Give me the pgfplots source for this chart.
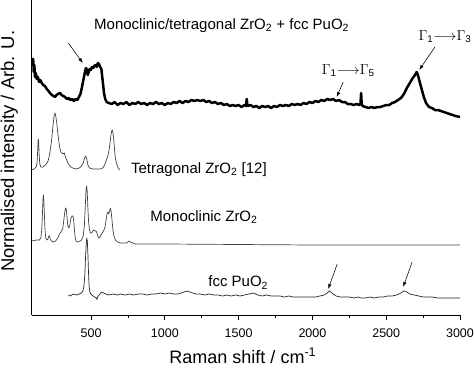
\documentclass[border=0pt]{standalone}
\usepackage{fontspec}
\setmainfont{Liberation Sans}
\usepackage{pgfplots}
\pgfplotsset{compat=1.18}
\usetikzlibrary{arrows.meta}

% mixed-phase sample (thick, noisy trace)
\pgfplotstableread{
x y
102 257
105 250
108 256
112 243
116 250
120 238
126 242
132 236
140 238
148 233
156 235
166 232
176 230
188 229
200 226
212 224
222 222
234 220
246 219
256 218
266 220
276 221
290 222
300 220
312 219
324 218
336 216
348 217
360 215
372 216
384 214
396 216
408 215
418 218
428 221
436 226
444 232
452 238
460 244
466 247
470 246
474 242
478 240
484 243
490 246
498 245
506 248
514 247
522 249
530 250
538 248
546 252
554 251
562 248
570 246
576 238
582 230
588 222
596 216
606 213
620 212
640 211
660 213
680 210
700 212
720 211
740 213
760 210
780 212
800 211
820 213
840 211
860 212
880 210
900 212
920 211
940 213
960 211
980 212
1000 210
1020 212
1040 211
1060 213
1080 212
1100 214
1120 212
1140 214
1160 213
1180 215
1200 214
1220 215
1240 214
1260 215
1280 213
1300 214
1320 212
1340 213
1360 211
1380 212
1400 210
1420 211
1440 209
1460 210
1480 209
1500 210
1520 208
1540 210
1550 209
1555 216
1560 209
1580 210
1600 208
1620 209
1640 207
1660 209
1680 208
1700 209
1720 207
1740 209
1760 208
1780 210
1800 209
1820 210
1840 209
1860 211
1880 210
1900 211
1920 210
1940 212
1960 211
1980 213
2000 212
2020 214
2040 213
2060 215
2080 214
2100 216
2120 215
2140 216
2160 214
2180 215
2200 213
2220 213
2240 211
2260 211
2280 210
2300 211
2320 210
2326 212
2330 222
2334 211
2340 209
2360 208
2380 207
2400 208
2420 207
2440 208
2460 208
2480 209
2500 210
2520 210
2540 212
2560 213
2580 215
2600 217
2620 221
2640 227
2660 232
2680 237
2695 240
2706 243
2715 240
2725 234
2740 226
2755 218
2770 212
2790 208
2810 207
2830 205
2850 205
2870 204
2890 203
2910 202
2930 201
2950 200
2970 199
3000 198
}\mixed

% tetragonal ZrO2 reference
\pgfplotstableread{
x y
98 145
115 146
128 148
134 152
138 163
141 174
143 176
146 170
149 159
153 151
160 148
175 148
190 150
203 152
211 155
222 163
233 175
244 192
250 199
256 202
261 199
267 193
272 186
278 178
287 168
296 163
308 161
319 162
327 158
335 155
346 151
357 149
375 147
400 146
420 147
435 149
447 152
456 157
464 159
471 156
479 150
490 147
510 146
560 146
580 147
592 150
604 155
612 158
620 163
628 171
635 180
640 184
644 185
648 183
654 175
660 164
666 156
674 151
684 147
696 145
}\tetra

% monoclinic ZrO2
\pgfplotstableread{
x y
98 74
130 75
150 75
160 77
166 85
170 98
174 114
177 120
180 116
184 100
188 86
193 77
200 75
208 76
214 79
218 79
223 76
232 74
244 73
260 74
275 77
285 81
292 82
300 84
308 86
315 94
322 103
328 107
332 106
337 98
343 89
350 87
356 90
364 97
372 99
378 99
383 94
388 84
393 77
398 74
410 73
425 74
435 75
447 79
455 90
461 108
466 125
470 129
474 124
479 106
484 92
490 85
497 82
505 82
512 84
520 85
528 84
534 84
540 82
548 78
556 77
564 79
575 82
585 84
595 88
603 96
610 102
614 103
620 101
626 104
631 107
636 104
642 95
648 86
655 79
665 75
680 73
700 72
740 72
750 73
758 74
766 73
800 71
1000 71
1500 70.5
2000 70
2500 70
3000 70
}\mono

% fcc PuO2
\pgfplotstableread{
x y
346 20
360 19
380 21
400 20
420 21
435 22
445 24
452 29
458 40
463 58
467 70
471 77
475 74
479 60
483 42
487 29
492 23
498 21
506 20
515 19
525 18
535 17
540 15.5
545 18
555 20
565 22
575 23
585 22
600 21
620 20
650 21
680 20
700 21
730 20
760 21
790 20
820 21
850 21
880 20
910 21
940 21
970 22
1000 21
1030 22
1060 21
1090 21
1110 22
1130 23
1150 24
1170 23
1190 22
1210 21
1240 21
1270 20
1300 21
1330 20
1360 20
1390 19
1420 20
1450 19
1480 20
1510 19
1540 20
1570 21
1600 22
1630 20
1660 19
1690 20
1720 19
1750 19
1780 19
1810 18
1840 19
1870 18
1900 18
1930 18
1960 18
1990 18
2020 18
2050 19
2080 20
2100 22
2115 24
2125 23
2140 21
2160 19
2190 18
2220 18
2250 18
2280 17
2310 18
2330 17
2360 17
2390 18
2420 17
2450 18
2480 18
2510 19
2540 19
2570 20
2600 22
2620 24
2640 23
2660 21
2690 20
2720 19
2750 18
2780 18
2810 18
2850 17
2900 17
2950 17
3000 17
}\puo

\begin{document}
\begin{tikzpicture}
\begin{axis}[
  scale only axis,
  width=428.3pt, height=315pt,
  xmin=98, xmax=3000, ymin=0, ymax=315,
  axis x line*=bottom, axis y line*=left,
  axis line style={line width=0.8pt},
  xtick={500,1000,...,3000},
  minor x tick num=1,
  ytick=\empty,
  tick align=outside,
  major tick length=4.5pt, minor tick length=3pt,
  tick style={line width=0.7pt, black},
  /pgf/number format/assume math mode=true,
  /pgf/number format/1000 sep={},
  xticklabel style={font=\fontsize{12.5}{14}\selectfont, inner sep=1pt, yshift=-8pt},
  xlabel={Raman shift / cm\textsuperscript{-1}},
  xlabel style={font=\fontsize{18}{20}\selectfont, at={(axis description cs:0.493,-0.129)}, anchor=center, inner sep=0pt},
  ylabel={Normalised intensity / Arb. U.},
  ylabel style={font=\fontsize{18.5}{20}\selectfont, at={(axis description cs:-0.052,0.52)}, anchor=center, inner sep=0pt},
  clip=false,
]
\addplot[black!75, line width=0.7pt, line join=round] table {\tetra};
\addplot[black!75, line width=0.7pt, line join=round] table {\mono};
\addplot[black!85, line width=0.7pt, line join=round] table {\puo};
\addplot[black, line width=2.5pt, line join=round] table {\mixed};

\coordinate (bbA) at (rel axis cs:0,0);
\coordinate (bbB) at (rel axis cs:1,1);

% annotations
\node[anchor=base, font=\fontsize{15}{17}\selectfont] at (axis cs:1385,286) {Monoclinic/tetragonal ZrO\textsubscript{2} + fcc PuO\textsubscript{2}};
\node[anchor=base, font=\fontsize{15}{17}\selectfont] at (axis cs:1231,142) {Tetragonal ZrO\textsubscript{2} [12]};
\node[anchor=base, font=\fontsize{15}{17}\selectfont] at (axis cs:1265,94) {Monoclinic ZrO\textsubscript{2}};
\node[anchor=base, font=\fontsize{15}{17}\selectfont] at (axis cs:1497,28.3) {fcc PuO\textsubscript{2}};
\node[anchor=base, font=\fontsize{14}{16}\selectfont] at (axis cs:2243,241) {$\Gamma$\textsubscript{1}$\longrightarrow$$\Gamma$\textsubscript{5}};
\node[anchor=base, font=\fontsize{14}{16}\selectfont] at (axis cs:2898,275) {$\Gamma$\textsubscript{1}$\longrightarrow$$\Gamma$\textsubscript{3}};

\draw[-{Latex[length=5pt,width=3.5pt]}, line width=0.55pt] (axis cs:346,272) -- (axis cs:444,252);
\draw[-{Latex[length=5pt,width=3.5pt]}, line width=0.55pt] (axis cs:2209,233) -- (axis cs:2164,218);
\draw[-{Latex[length=5pt,width=3.5pt]}, line width=0.55pt] (axis cs:2830,268) -- (axis cs:2724,245);
\draw[-{Latex[length=5pt,width=3.5pt]}, line width=0.55pt] (axis cs:2168,51) -- (axis cs:2107,26);
\draw[-{Latex[length=5pt,width=3.5pt]}, line width=0.55pt] (axis cs:2676,53) -- (axis cs:2615,28);
\end{axis}
\pgfresetboundingbox
\useasboundingbox ([shift={(-31.7pt,-53pt)}]bbA) rectangle ([shift={(14pt,0pt)}]bbB);
\end{tikzpicture}
\end{document}
